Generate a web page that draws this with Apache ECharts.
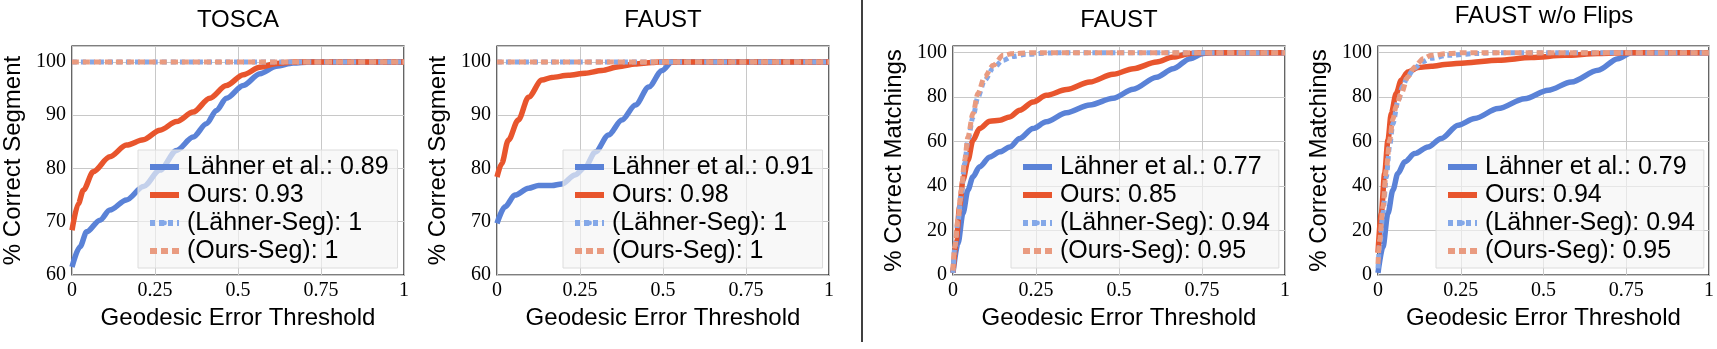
<!DOCTYPE html>
<html style="height: 100%">
<head>
    <meta charset="utf-8">
    <script type="text/javascript" src="https://cdn.jsdelivr.net/npm/echarts@6/dist/echarts.min.js"></script>
</head>
<body style="height: 100%; margin: 0; background: #fff">
<div id="container" style="height: 349px;width: 1717px;position: absolute;top: 0;left: 0px;"></div>
<script type="text/javascript">
    // panel titles and axis names
    var titles = ['TOSCA', 'FAUST', 'FAUST', 'FAUST w/o Flips'];
    var yNames = ['% Correct Segment', '% Correct Segment', '% Correct Matchings', '% Correct Matchings'];
    var xName = 'Geodesic Error Threshold';
    var xTicks = [0, 0.25, 0.5, 0.75, 1];

    // legend entries per panel: Lähner, Ours, Lähner-Seg, Ours-Seg
    var legendNames = [
        ['Lähner et al.: 0.89', 'Ours: 0.93', '(Lähner-Seg): 1', '(Ours-Seg): 1'],
        ['Lähner et al.: 0.91', 'Ours: 0.98', '(Lähner-Seg): 1', '(Ours-Seg): 1'],
        ['Lähner et al.: 0.77', 'Ours: 0.85', '(Lähner-Seg): 0.94', '(Ours-Seg): 0.95'],
        ['Lähner et al.: 0.79', 'Ours: 0.94', '(Lähner-Seg): 0.94', '(Ours-Seg): 0.95']
    ];

    // TOSCA (segment)
    var toscaLahner = [[0,61.5],[0.024,65.3],[0.044,68.1],[0.084,70.3],[0.114,72.2],[0.164,74.1],[0.215,76.6],[0.265,79.7],[0.315,83.4],[0.365,85.9],[0.405,88.4],[0.435,90.9],[0.465,93.2],[0.516,95.6],[0.566,97.8],[0.616,99.2],[0.666,99.8],[0.716,100],[1,100]];
    var toscaOurs = [[0,68.4],[0.019,73.4],[0.034,75.9],[0.064,79.4],[0.114,82.2],[0.164,84.4],[0.215,85.4],[0.265,87.2],[0.315,88.8],[0.365,90.6],[0.415,93.2],[0.465,95.6],[0.516,97.6],[0.566,99],[0.616,99.7],[0.666,100],[1,100]];
    var toscaLahnerSeg = [[0,100],[1,100]];
    var toscaOursSeg = [[0,100],[1,100]];

    // FAUST (segment)
    var faustLahner = [[0,69.7],[0.024,72.8],[0.054,75],[0.095,76.3],[0.125,76.8],[0.165,76.8],[0.195,77.1],[0.235,78.8],[0.266,80.3],[0.296,83.1],[0.336,86.3],[0.376,89.1],[0.417,91.9],[0.457,95.3],[0.497,98.4],[0.527,100],[1,100]];
    var faustOurs = [[0,78.4],[0.014,80.9],[0.034,85.3],[0.064,89.1],[0.095,93.4],[0.135,96.6],[0.165,97.1],[0.215,97.5],[0.266,97.9],[0.316,98.4],[0.366,99.1],[0.416,99.6],[0.467,99.9],[0.49,100],[1,100]];
    var faustLahnerSeg = [[0,100],[1,100]];
    var faustOursSeg = [[0,100],[1,100]];

    // FAUST (matchings)
    var matchLahner = [[0,1],[0.015,14.2],[0.03,27.7],[0.045,38.2],[0.06,44.2],[0.08,48.7],[0.111,53.1],[0.141,55.4],[0.171,57.6],[0.201,61.4],[0.241,65.9],[0.281,68.9],[0.342,73],[0.412,76.5],[0.482,79.5],[0.543,83.6],[0.613,89],[0.663,92.8],[0.714,97.3],[0.754,99.6],[0.78,100],[1,100]];
    var matchOurs = [[0,1],[0.01,15.7],[0.02,30.7],[0.03,42.7],[0.045,51.6],[0.06,60.6],[0.08,65.9],[0.111,69.2],[0.141,69.6],[0.171,71.1],[0.201,74.1],[0.241,77.8],[0.281,80.8],[0.342,83.4],[0.412,86.8],[0.482,90.3],[0.543,92.8],[0.613,95.8],[0.663,98],[0.714,99.6],[0.74,100],[1,100]];
    var matchLahnerSeg = [[0,1],[0.005,12],[0.015,24],[0.025,37],[0.035,50],[0.045,60.5],[0.06,71],[0.075,80],[0.095,87.5],[0.121,93],[0.15,96.5],[0.18,98.3],[0.22,99.3],[0.3,99.9],[0.35,100],[1,100]];
    var matchOursSeg = [[0,2],[0.005,12.7],[0.015,24.7],[0.025,38.2],[0.035,51.6],[0.045,62.1],[0.06,72.6],[0.075,81.6],[0.095,89.1],[0.121,94.3],[0.151,98.8],[0.181,99.6],[0.25,100],[1,100]];

    // FAUST w/o Flips (matchings)
    var flipsLahner = [[0,1],[0.015,12.7],[0.03,27.7],[0.045,38.2],[0.06,45.7],[0.081,50.9],[0.111,54.6],[0.151,57.6],[0.191,61.4],[0.242,67.4],[0.292,70.4],[0.363,74.9],[0.443,79.3],[0.514,83.1],[0.584,86.8],[0.665,92.1],[0.725,97.3],[0.765,100],[1,100]];
    var flipsOurs = [[0,10],[0.01,27.7],[0.02,45.7],[0.03,60.6],[0.04,72.6],[0.055,81.6],[0.07,87.6],[0.09,91.3],[0.121,93.3],[0.161,93.9],[0.211,94.8],[0.262,95.4],[0.363,96.6],[0.463,97.8],[0.564,98.8],[0.665,99.6],[0.765,100],[1,100]];
    var flipsLahnerSeg = [[0,3],[0.005,13],[0.015,28],[0.025,44],[0.035,58],[0.045,68],[0.06,78],[0.075,85],[0.09,89.5],[0.11,93],[0.136,96],[0.161,97.5],[0.211,98.8],[0.3,99.6],[0.36,100],[1,100]];
    var flipsOursSeg = [[0,5],[0.005,15.7],[0.015,30.7],[0.025,47.2],[0.035,60.6],[0.045,70],[0.055,76],[0.07,81.6],[0.09,89.1],[0.111,93.6],[0.136,97.3],[0.161,98.8],[0.211,99.6],[0.262,100],[1,100]];

    var panelData = [
        [toscaLahner, toscaOurs, toscaLahnerSeg, toscaOursSeg],
        [faustLahner, faustOurs, faustLahnerSeg, faustOursSeg],
        [matchLahner, matchOurs, matchLahnerSeg, matchOursSeg],
        [flipsLahner, flipsOurs, flipsLahnerSeg, flipsOursSeg]
    ];

    var sans = 'Liberation Sans';
    var serif = 'Liberation Serif';

    var gridPos = [
        {left: 72, top: 46, width: 332, height: 229},
        {left: 497, top: 46, width: 332, height: 229},
        {left: 953, top: 46, width: 332, height: 229},
        {left: 1378, top: 46, width: 331, height: 229}
    ];
    var titlePos = [[238, 20], [663, 20], [1119, 20], [1544, 16]];
    var legendLeft = [138, 563, 1011, 1436];
    var yMin = [60, 60, 0, 0];
    var yInterval = [10, 10, 20, 20];

    var lineStyles = [
        {color: '#5a82d7', width: 5.5, type: 'solid'},
        {color: '#e8552d', width: 5.5, type: 'solid'},
        {color: '#84a8e8', width: 5, type: [5, 4]},
        {color: '#e99b80', width: 5, type: [7, 4]}
    ];

    var tickLabel = {
        show: true, fontFamily: serif, fontSize: 20, color: '#000', margin: 6,
        textStyle: {fontFamily: serif, fontSize: 20, color: '#000'}
    };

    var grids = [], xAxes = [], yAxes = [], series = [], legends = [], titleList = [];
    for (var p = 0; p < 4; p++) {
        grids.push({
            left: gridPos[p].left, top: gridPos[p].top,
            width: gridPos[p].width, height: gridPos[p].height,
            show: true, borderColor: '#000', borderWidth: 1.2,
            backgroundColor: 'transparent'
        });
        xAxes.push({
            gridIndex: p, type: 'value', min: 0, max: 1, interval: 0.25,
            name: xName, nameLocation: 'middle', nameGap: 30,
            nameTextStyle: {fontFamily: sans, fontSize: 24, color: '#000'},
            axisLine: {show: false}, axisTick: {show: false},
            axisLabel: Object.assign({}, tickLabel, {
                formatter: function (v) { return String(v); }
            }),
            splitLine: {show: true, lineStyle: {color: '#c8c8c8', width: 1}}
        });
        yAxes.push({
            gridIndex: p, type: 'value', min: yMin[p], max: 103, interval: yInterval[p],
            name: yNames[p], nameLocation: 'middle', nameGap: 47,
            nameTextStyle: {fontFamily: sans, fontSize: 24, color: '#000'},
            axisLine: {show: false}, axisTick: {show: false},
            axisLabel: Object.assign({}, tickLabel, {
                showMaxLabel: false,
                formatter: function (v) { return (v % 10 === 0) ? String(v) : ''; }
            }),
            splitLine: {show: true, lineStyle: {color: '#c8c8c8', width: 1}}
        });
        titleList.push({
            text: titles[p], left: titlePos[p][0], top: titlePos[p][1],
            textAlign: 'center', textVerticalAlign: 'middle', padding: 0,
            textStyle: {fontFamily: sans, fontSize: 24, fontWeight: 'normal', color: '#000'}
        });
        for (var s = 0; s < 4; s++) {
            series.push({
                type: 'line', name: legendNames[p][s],
                xAxisIndex: p, yAxisIndex: p,
                data: panelData[p][s],
                symbol: 'none', showSymbol: false,
                smooth: 0.3, smoothMonotone: 'x',
                lineStyle: {color: lineStyles[s].color, width: lineStyles[s].width, type: lineStyles[s].type, cap: 'butt'},
                itemStyle: {color: lineStyles[s].color},
                z: 2 + s
            });
        }
        legends.push({
            data: legendNames[p], orient: 'vertical',
            left: legendLeft[p], top: 150,
            itemWidth: 29, itemHeight: 6, itemGap: 0,
            padding: [3, 9, 3, 9],
            backgroundColor: 'rgba(244,244,244,0.68)',
            borderColor: '#dcdcdc', borderWidth: 1,
            selectedMode: false,
            lineStyle: {width: 6},
            textStyle: {fontFamily: sans, fontSize: 25, color: '#000', lineHeight: 28, padding: [0, 0, 0, 3]}
        });
    }

    var myChart = echarts.init(document.getElementById('container'), null, {renderer: 'canvas'});
    var option = {
        backgroundColor: '#fff',
        animation: false,
        textStyle: {fontFamily: serif, fontSize: 20, color: '#000'},
        title: titleList,
        grid: grids,
        xAxis: xAxes,
        yAxis: yAxes,
        legend: legends,
        series: series,
        graphic: [{
            type: 'line',
            shape: {x1: 862, y1: 0, x2: 862, y2: 342},
            style: {stroke: '#000', lineWidth: 1.5}
        }]
    };
    myChart.setOption(option);
</script>
</body>
</html>
